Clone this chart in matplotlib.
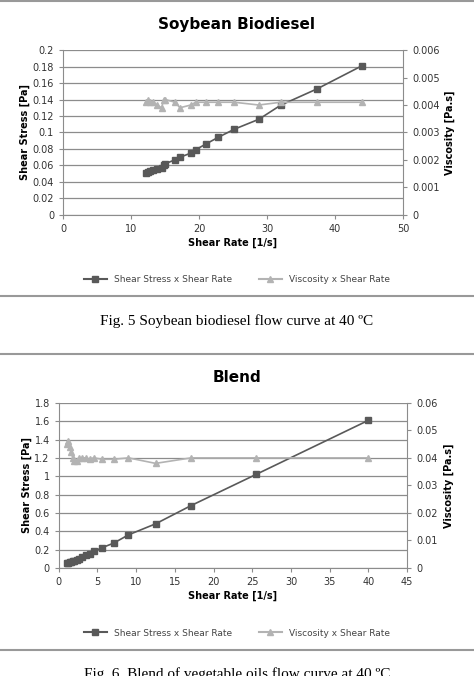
import matplotlib
matplotlib.use("Agg")
import matplotlib.pyplot as plt
from matplotlib.lines import Line2D

soy_rate = [12.2,12.5,12.8,13.2,13.8,14.5,14.8,15.0,16.5,17.2,18.8,19.5,21.0,22.8,25.2,28.8,32.0,37.4,44.0]
soy_stress = [0.051,0.052,0.053,0.054,0.056,0.057,0.060,0.062,0.067,0.070,0.075,0.079,0.086,0.094,0.104,0.116,0.133,0.153,0.181]
soy_visc = [0.0041,0.0042,0.0041,0.0041,0.0040,0.0039,0.0042,0.0042,0.0041,0.0039,0.0040,0.0041,0.0041,0.0041,0.0041,0.0040,0.0041,0.0041,0.0041]

bl_rate = [1.0,1.2,1.4,1.6,1.8,2.0,2.3,2.6,3.0,3.5,4.0,4.5,5.6,7.1,9.0,12.5,17.1,25.5,40.0]
bl_stress = [0.05,0.055,0.06,0.065,0.07,0.08,0.09,0.10,0.12,0.14,0.15,0.18,0.22,0.27,0.36,0.48,0.68,1.02,1.61]
bl_visc = [0.045,0.046,0.044,0.042,0.040,0.039,0.039,0.040,0.040,0.040,0.0395,0.040,0.0395,0.0395,0.040,0.038,0.040,0.040,0.040]

DARK = "#595959"; LIGHT = "#b3b3b3"; GRID = "#8c8c8c"
fig = plt.figure(figsize=(4.74, 6.76), dpi=100)

def panel(rect, title, x, s, v, xlim, xt, ylim, yt, ylabs, vlim, vt, vlabs, title_y, leg_y):
    ax = fig.add_axes(rect)
    ax.plot(x, s, color=DARK, marker="s", ms=5, lw=1.2)
    ax.set_xlim(*xlim); ax.set_ylim(*ylim)
    ax.set_xticks(xt); ax.set_yticks(yt); ax.set_yticklabels(ylabs)
    ax.grid(axis="y", color=GRID, lw=0.9)
    ax.set_axisbelow(True)
    for sp in ["top", "right"]:
        ax.spines[sp].set_visible(False)
    for sp in ["left", "bottom"]:
        ax.spines[sp].set_color(GRID)
    ax.tick_params(labelsize=7, colors="#333333", length=3, color=GRID)
    ax.set_xlabel("Shear Rate [1/s]", fontsize=7, fontweight="bold", labelpad=3)
    ax.set_ylabel("Shear Stress [Pa]", fontsize=7, fontweight="bold", labelpad=2)
    ax2 = ax.twinx()
    ax2.plot(x, v, color=LIGHT, marker="^", ms=5, lw=1.2)
    ax2.set_ylim(*vlim); ax2.set_yticks(vt); ax2.set_yticklabels(vlabs)
    for sp in ["top", "left", "bottom"]:
        ax2.spines[sp].set_visible(False)
    ax2.spines["right"].set_color(GRID)
    ax2.tick_params(labelsize=7, colors="#333333", length=3, color=GRID)
    ax2.set_ylabel("Viscosity [Pa.s]", fontsize=7, fontweight="bold", labelpad=4)
    fig.text(0.5, title_y, title, ha="center", va="center", fontsize=11, fontweight="bold")
    h = [Line2D([], [], color=DARK, marker="s", ms=5), Line2D([], [], color=LIGHT, marker="^", ms=5)]
    fig.legend(h, ["Shear Stress x Shear Rate", "Viscosity x Shear Rate"], loc="center",
               bbox_to_anchor=(0.5, leg_y), ncol=2, frameon=False, fontsize=6.5, handlelength=2.5,
               columnspacing=3, labelcolor="#444444")

panel([0.133, 0.682, 0.717, 0.244], "Soybean Biodiesel", soy_rate, soy_stress, soy_visc,
      (0, 50), [0, 10, 20, 30, 40, 50], (0, 0.2), [i*0.02 for i in range(11)],
      ["0","0.02","0.04","0.06","0.08","0.1","0.12","0.14","0.16","0.18","0.2"],
      (0, 0.006), [i*0.001 for i in range(7)], ["0","0.001","0.002","0.003","0.004","0.005","0.006"],
      1 - 24/676, 1 - 280/676)
panel([0.124, 0.160, 0.735, 0.244], "Blend", bl_rate, bl_stress, bl_visc,
      (0, 45), list(range(0, 46, 5)), (0, 1.8), [i*0.2 for i in range(10)],
      ["0","0.2","0.4","0.6","0.8","1","1.2","1.4","1.6","1.8"],
      (0, 0.06), [i*0.01 for i in range(7)], ["0","0.01","0.02","0.03","0.04","0.05","0.06"],
      1 - 377/676, 1 - 633/676)

for y in [1, 296, 354, 650]:
    fig.add_artist(Line2D([0, 1], [1 - y/676]*2, color="#999999", lw=1.5))
fig.text(0.5, 1 - 321/676, "Fig. 5 Soybean biodiesel flow curve at 40 \u00baC", ha="center", va="center",
         fontsize=11, family="Liberation Serif")
fig.text(0.5, 1 - 674/676, "Fig. 6. Blend of vegetable oils flow curve at 40 \u00baC", ha="center", va="center",
         fontsize=11, family="Liberation Serif")
fig.savefig("out.png", dpi=100)
